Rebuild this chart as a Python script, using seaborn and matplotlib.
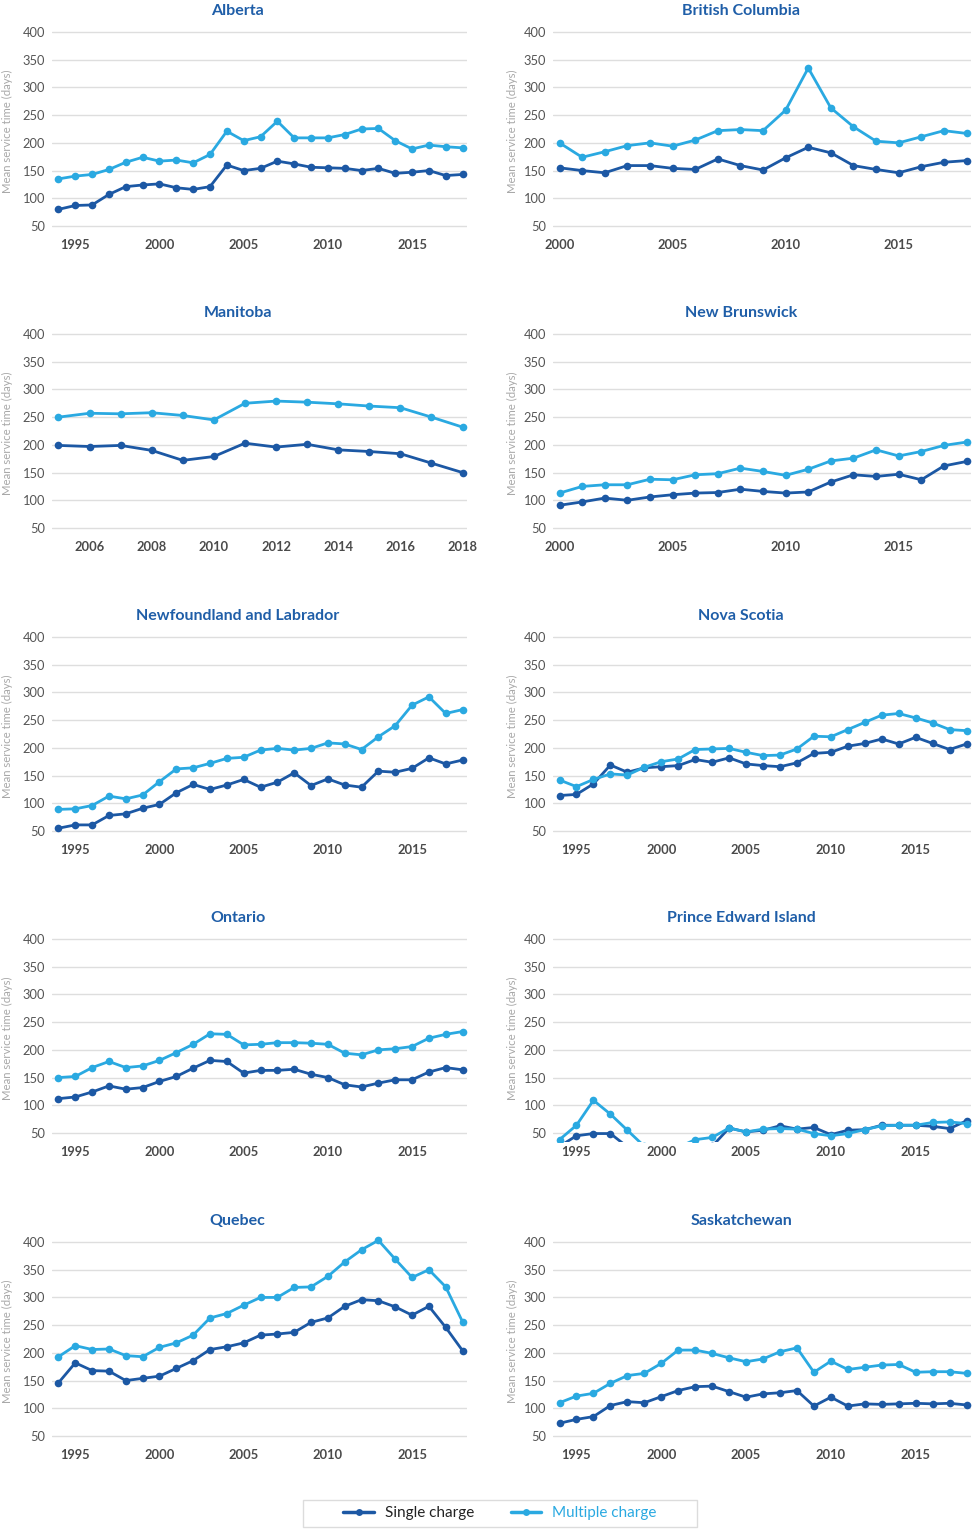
import numpy as np
import pandas as pd
import seaborn as sns
import matplotlib.pyplot as plt
from matplotlib.patches import Rectangle
from matplotlib.lines import Line2D

nan = np.nan

# years per province
years_94 = list(range(1994, 2019))
years_00 = list(range(2000, 2019))
years_05 = list(range(2005, 2019))

alberta_single = [80, 87, 88, 107, 121, 124, 126, 119, 116, 121, 160, 150, 154, 167, 162, 156, 155, 154, 150, 154, 145, 147, 150, 141, 143]
alberta_multi = [135, 140, 143, 152, 165, 174, 167, 169, 164, 179, 221, 204, 211, 239, 209, 209, 209, 215, 225, 226, 204, 189, 196, 193, 191]

bc_single = [155, 150, 146, 159, 159, 154, 152, 171, 159, 151, 173, 192, 182, 159, 152, 146, 157, 165, 168]
bc_multi = [200, 174, 184, 195, 200, 194, 205, 222, 224, 222, 259, 335, 263, 229, 203, 200, 211, 222, 217]

manitoba_single = [199, 197, 199, 190, 172, 179, 203, 196, 201, 191, 188, 184, 167, 150]
manitoba_multi = [250, 257, 256, 258, 253, 245, 275, 279, 277, 274, 270, 267, 250, 232]

nb_single = [91, 97, 104, 100, 106, 110, 113, 114, 120, 116, 113, 115, 133, 146, 143, 147, 137, 162, 170]
nb_multi = [113, 125, 128, 128, 138, 137, 146, 148, 158, 152, 145, 156, 171, 176, 191, 180, 188, 199, 205]

nl_single = [55, 61, 61, 78, 81, 91, 98, 119, 134, 125, 133, 143, 129, 138, 155, 132, 144, 133, 129, 158, 156, 163, 182, 171, 178]
nl_multi = [89, 90, 96, 113, 108, 115, 139, 162, 164, 172, 181, 183, 196, 199, 196, 199, 209, 207, 197, 220, 240, 277, 292, 262, 269]

ns_single = [114, 116, 135, 169, 156, 164, 166, 168, 179, 174, 182, 171, 168, 166, 173, 190, 192, 203, 208, 216, 207, 219, 208, 197, 207]
ns_multi = [142, 130, 143, 153, 151, 165, 175, 180, 197, 198, 199, 192, 186, 187, 198, 221, 220, 233, 246, 259, 262, 254, 245, 233, 231]

on_single = [112, 115, 124, 135, 129, 132, 143, 152, 167, 181, 179, 158, 163, 163, 165, 156, 150, 137, 133, 140, 146, 146, 160, 168, 164]
on_multi = [150, 152, 168, 179, 168, 171, 181, 195, 210, 229, 228, 209, 210, 213, 213, 212, 210, 194, 191, 200, 202, 206, 221, 228, 233]

pei_single = [26, 45, 49, 49, 25, nan, nan, nan, nan, 26, 59, 52, 55, 63, 57, 60, 47, 55, 56, 64, 64, 64, 62, 58, 72]
pei_multi = [38, 64, 109, 84, 55, 26, nan, 24, 38, 42, 59, 52, 57, 58, 57, 49, 45, 49, 56, 63, 64, 64, 69, 70, 67]

qc_single = [146, 182, 168, 167, 150, 154, 158, 172, 186, 206, 211, 218, 232, 234, 237, 255, 263, 284, 296, 294, 283, 268, 284, 246, 204]
qc_multi = [193, 213, 206, 207, 195, 193, 210, 218, 232, 263, 271, 286, 300, 300, 318, 319, 338, 364, 386, 403, 369, 336, 350, 319, 256]

sk_single = [73, 80, 85, 105, 112, 110, 121, 132, 139, 140, 130, 120, 126, 128, 132, 104, 120, 104, 108, 107, 108, 109, 108, 109, 106]
sk_multi = [110, 122, 127, 145, 159, 163, 181, 205, 205, 199, 191, 184, 189, 202, 209, 165, 185, 170, 174, 178, 179, 165, 166, 166, 163]

panels = [
    ("Alberta", years_94, alberta_single, alberta_multi, 5),
    ("British Columbia", years_00, bc_single, bc_multi, 5),
    ("Manitoba", years_05, manitoba_single, manitoba_multi, 2),
    ("New Brunswick", years_00, nb_single, nb_multi, 5),
    ("Newfoundland and Labrador", years_94, nl_single, nl_multi, 5),
    ("Nova Scotia", years_94, ns_single, ns_multi, 5),
    ("Ontario", years_94, on_single, on_multi, 5),
    ("Prince Edward Island", years_94, pei_single, pei_multi, 5),
    ("Quebec", years_94, qc_single, qc_multi, 5),
    ("Saskatchewan", years_94, sk_single, sk_multi, 5),
]

series_names = ["Single charge", "Multiple charge"]
colors = {"Single charge": "#1c58a4", "Multiple charge": "#2aa9e1"}
title_color = "#1f5ea8"

sns.set_theme(style="white")
plt.rcParams['font.family'] = ['Lato', 'DejaVu Sans']

W, H = 978, 1536
fig = plt.figure(figsize=(W / 100, H / 100), dpi=100)

col_x = [(52, 467), (553, 971)]
row_top400 = [32, 334, 637, 939, 1242]
px_per_unit = 194 / 350.0
ymin, ymax = 33.5, 410

for i, (name, yrs, single, multi, step) in enumerate(panels):
    r, c = divmod(i, 2)
    x0, x1 = col_x[c]
    top = row_top400[r] - (ymax - 400) * px_per_unit
    bot = row_top400[r] + (400 - ymin) * px_per_unit
    ax = fig.add_axes([x0 / W, 1 - bot / H, (x1 - x0) / W, (bot - top) / H])

    df = pd.DataFrame({
        "Year": yrs * 2,
        "Days": single + multi,
        "Series": [series_names[0]] * len(yrs) + [series_names[1]] * len(yrs),
    })
    sns.lineplot(data=df, x="Year", y="Days", hue="Series", hue_order=series_names,
                 palette=colors, marker="o", markersize=5.5, markeredgewidth=0,
                 linewidth=2, legend=False, ax=ax, zorder=3)

    span = yrs[-1] - yrs[0]
    ax.set_xlim(yrs[0] - 0.016 * span, yrs[-1] + 0.011 * span)
    ax.set_ylim(ymin, ymax)
    ax.set_yticks(range(50, 401, 50))
    first = yrs[0] if yrs[0] % step == 0 else yrs[0] + (step - yrs[0] % step)
    ax.set_xticks(range(first, yrs[-1] + 1, step))

    ax.grid(axis="y", color="#dedede", linewidth=1)
    ax.grid(axis="x", visible=False)
    for s in ax.spines.values():
        s.set_visible(False)

    ax.tick_params(axis="y", length=0, pad=5, labelsize=9.3, labelcolor="#555555")
    ax.tick_params(axis="x", direction="in", length=7, width=1, color="#cccccc",
                   pad=2.5, labelsize=9.3, labelcolor="#4a4a4a")
    for lab in ax.get_xticklabels():
        lab.set_fontweight("bold")

    ax.set_xlabel("")
    ax.set_ylabel("Mean service time (days)", fontsize=8.2, color="#a8a8a8")
    ax.yaxis.set_label_coords(-0.094 if c == 0 else -0.083, 0.5)

    ax.set_title(name, x=0.447 if c == 0 else 0.45, pad=8, fontsize=11.5,
                 fontweight="bold", color=title_color)

# legend box at the bottom
fig.patches.append(Rectangle((303 / W, 1 - 1527 / H), 394 / W, 27 / H,
                             transform=fig.transFigure, facecolor="white",
                             edgecolor="#dcdcdc", linewidth=1))
handles = [Line2D([], [], color=colors[n], marker="o", markersize=5,
                  markeredgewidth=0, linewidth=2.5) for n in series_names]
leg = fig.legend(handles, series_names, loc="center", bbox_to_anchor=(0.511, 1 - 1513 / H),
                 ncol=2, frameon=False, fontsize=11, handlelength=2.0,
                 handletextpad=0.7, columnspacing=2.4)
leg.get_texts()[0].set_color("#222222")
leg.get_texts()[1].set_color(colors["Multiple charge"])

fig.savefig("out.png", dpi=100)
